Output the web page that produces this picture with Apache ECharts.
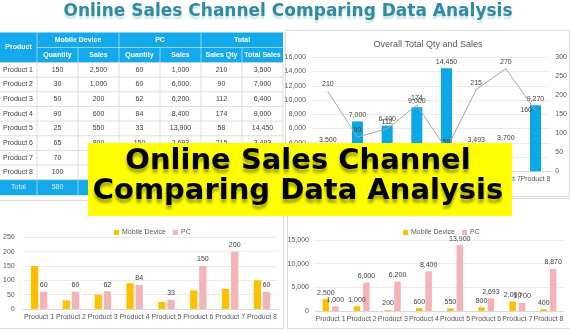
<!DOCTYPE html>
<html><head><meta charset="utf-8">
<script src="https://cdn.jsdelivr.net/npm/echarts@6/dist/echarts.min.js"></script>
<style>html,body{margin:0;padding:0;background:#fff}#c{width:570px;height:330px}</style>
</head><body><div id="c"></div>
<script>
const mainTitle = 'Online Sales Channel Comparing Data Analysis';
const bannerLines = ['Online Sales Channel', 'Comparing Data Analysis'];
const products = ['Product 1','Product 2','Product 3','Product 4','Product 5','Product 6','Product 7','Product 8'];
const mobileQty = [150, 30, 50, 90, 25, 65, 70, 100];
const mobileSales = [2500, 1000, 200, 600, 550, 800, 2000, 400];
const pcQty = [60, 60, 62, 84, 33, 150, 200, 60];
const pcSales = [1000, 6000, 6200, 8400, 13900, 2693, 1700, 8870];
const totalQty = [210, 90, 112, 174, 58, 215, 270, 160];
const totalSales = [3500, 7000, 6400, 9000, 14450, 3493, 3700, 9270];
const headerGroups = ['Mobile Device', 'PC', 'Total'];
const headerSub = ['Quantity', 'Sales', 'Quantity', 'Sales', 'Sales Qty', 'Total Sales'];
const chartTitles = ['Overall Total Qty and Sales', 'Total Qty Comparison', 'Total Sales Comparison'];

const fmt = v => Number(v).toLocaleString('en-US');
const sum = a => a.reduce((s, v) => s + v, 0);
const FONT = 'Liberation Sans';
const BLUE = '#14a9ec';
const els = [];

// Main title
els.push({type:'text', z:10, style:{text:mainTitle, x:288, y:12, align:'center', verticalAlign:'middle',
  font:'bold 17px "DejaVu Sans"', fill:'#3389a1',
  textShadowColor:'rgba(120,190,205,0.45)', textShadowBlur:2, textShadowOffsetY:3}});

// ---- Table ----
const colX = [0, 37, 78, 119, 160, 201, 242, 283];
const hTop = 32.5, hMid = 47.5, dTop = 62.5, rh = 14.65;
const totTop = dTop + 8 * rh, totBot = totTop + 15.5;
els.push({type:'rect', z:1, shape:{x:0, y:hTop, width:283, height:dTop - hTop}, style:{fill:BLUE}});
els.push({type:'rect', z:1, shape:{x:0, y:totTop, width:283, height:totBot - totTop}, style:{fill:BLUE}});
const wl = {stroke:'rgba(255,255,255,0.75)', lineWidth:0.7};
const gl = {stroke:'#cfcfcf', lineWidth:0.7};
[1, 3, 5].forEach(i => els.push({type:'line', z:2, shape:{x1:colX[i], y1:hTop, x2:colX[i], y2:dTop}, style:wl}));
[2, 4, 6].forEach(i => els.push({type:'line', z:2, shape:{x1:colX[i], y1:hMid, x2:colX[i], y2:dTop}, style:wl}));
els.push({type:'line', z:2, shape:{x1:colX[1], y1:hMid, x2:283, y2:hMid}, style:wl});
for (let i = 1; i < 7; i++) els.push({type:'line', z:2, shape:{x1:colX[i], y1:totTop, x2:colX[i], y2:totBot}, style:wl});
for (let r = 0; r <= 8; r++) els.push({type:'line', z:2, shape:{x1:0, y1:dTop + r * rh, x2:283, y2:dTop + r * rh}, style:gl});
for (let i = 1; i < 8; i++) els.push({type:'line', z:2, shape:{x1:colX[i], y1:dTop, x2:colX[i], y2:totTop}, style:gl});
const tstyle = (text, x, y, o) => Object.assign({text, x, y, align:'center', verticalAlign:'middle',
  fontFamily:FONT, fontSize:7, fill:'#404040'}, o || {});
els.push({type:'text', z:3, style:tstyle('Product', colX[0] + 18.5, (hTop + dTop) / 2, {fill:'#fff', fontWeight:'bold'})});
headerGroups.forEach((g, k) => els.push({type:'text', z:3,
  style:tstyle(g, (colX[1 + 2 * k] + colX[3 + 2 * k]) / 2, (hTop + hMid) / 2, {fill:'#fff', fontWeight:'bold'})}));
headerSub.forEach((s, k) => els.push({type:'text', z:3,
  style:tstyle(s, (colX[1 + k] + colX[2 + k]) / 2, (hMid + dTop) / 2, {fill:'#fff', fontWeight:'bold'})}));
const cols = [mobileQty, mobileSales, pcQty, pcSales, totalQty, totalSales];
products.forEach((p, r) => {
  const cy = dTop + r * rh + rh / 2;
  els.push({type:'text', z:3, style:tstyle(p, 3, cy, {align:'left'})});
  cols.forEach((c, k) => els.push({type:'text', z:3, style:tstyle(fmt(c[r]), (colX[1 + k] + colX[2 + k]) / 2, cy)}));
});
const tcy = (totTop + totBot) / 2;
els.push({type:'text', z:3, style:tstyle('Total', 18.5, tcy, {fill:'#d8effc'})});
cols.forEach((c, k) => els.push({type:'text', z:3, style:tstyle(fmt(sum(c)), (colX[1 + k] + colX[2 + k]) / 2, tcy, {fill:'#d8effc'})}));

// ---- Panels ----
const pb = {fill:'none', stroke:'#dadada', lineWidth:1};
els.push({type:'rect', z:0, shape:{x:285.5, y:30.5, width:284, height:166}, style:pb});
els.push({type:'rect', z:0, shape:{x:-1, y:200.5, width:284.5, height:128}, style:pb});
els.push({type:'rect', z:0, shape:{x:287.5, y:198.5, width:283, height:130}, style:pb});
els.push({type:'text', z:3, style:tstyle(chartTitles[0], 428, 45, {fontSize:9, fill:'#595959'})});
els.push({type:'text', z:3, style:tstyle(chartTitles[1], 141, 212, {fontSize:9, fill:'#595959'})});
els.push({type:'text', z:3, style:tstyle(chartTitles[2], 428, 212, {fontSize:9, fill:'#595959'})});

// ---- Banner ----
els.push({type:'rect', z:100, shape:{x:88, y:143, width:424, height:73}, style:{fill:'#ffff00'}});
const bstyle = (t, y) => ({text:t, x:298, y, align:'center', verticalAlign:'middle',
  font:'bold 29px "DejaVu Sans"', fill:'#000',
  textShadowColor:'rgba(0,0,0,0.35)', textShadowBlur:3, textShadowOffsetY:4});
els.push({type:'text', z:101, style:bstyle(bannerLines[0], 161.3)});
els.push({type:'text', z:101, style:bstyle(bannerLines[1], 191.3)});

const lab = {color:'#595959', fontSize:7, fontFamily:FONT};
const xAx = (gi) => ({gridIndex:gi, type:'category', data:products, axisTick:{show:false},
  axisLine:{lineStyle:{color:'#d9d9d9'}}, axisLabel:Object.assign({margin:4.5, interval:0}, lab)});
const yAx = (gi, max, interval, margin, extra) => Object.assign({gridIndex:gi, type:'value', min:0, max, interval,
  axisLine:{show:false}, axisTick:{show:false},
  axisLabel:Object.assign({margin, formatter:fmt}, lab),
  splitLine:{lineStyle:{color:'#e6e6e6', width:0.8}}}, extra || {});
const vlab = {show:true, position:'top', distance:3, color:'#404040', fontSize:7, fontFamily:FONT, formatter:p => fmt(p.value)};

const option = {
  animation:false,
  textStyle:{fontFamily:FONT},
  graphic:{elements:els},
  grid:[
    {left:313, right:18.5, top:57.3, bottom:158.7},
    {left:18.8, right:292.1, top:237.3, bottom:21},
    {left:315, right:6, top:240, bottom:19}
  ],
  legend:[
    {data:['Mobile Device','PC'], left:109, top:224, itemWidth:5, itemHeight:5, itemGap:7, icon:'rect',
     textStyle:Object.assign({padding:[0,0,0,-2]}, lab)},
    {data:['Mobile Device','PC'], left:398, top:224, itemWidth:5, itemHeight:5, itemGap:7, icon:'rect',
     textStyle:Object.assign({padding:[0,0,0,-2]}, lab)}
  ],
  xAxis:[xAx(0), xAx(1), xAx(2)],
  yAxis:[
    yAx(0, 16000, 2000, 7),
    yAx(0, 300, 50, 5, {position:'right', splitLine:{show:false}}),
    yAx(1, 250, 50, 8.5),
    yAx(2, 15000, 5000, 6)
  ],
  series:[
    {type:'bar', name:'Total Sales', xAxisIndex:0, yAxisIndex:0, data:totalSales, barWidth:11,
     itemStyle:{color:'#0aa8e6'}, label:vlab},
    {type:'line', name:'Sales Qty', xAxisIndex:0, yAxisIndex:1, z:5,
     data:totalQty.map((v, i) => i === 7 ? {value:v, label:{position:'left'}} : v),
     symbol:'circle', symbolSize:1, showSymbol:true,
     itemStyle:{color:'#a5a5a5'}, lineStyle:{color:'#a5a5a5', width:1}, label:vlab},
    {type:'bar', name:'Mobile Device', xAxisIndex:1, yAxisIndex:2, data:mobileQty, barWidth:7.3, barGap:'25%',
     itemStyle:{color:'#ffc000'}},
    {type:'bar', name:'PC', xAxisIndex:1, yAxisIndex:2, data:pcQty, barWidth:7.3, barGap:'25%',
     itemStyle:{color:'#f6b3b6'}, label:vlab},
    {type:'bar', name:'Mobile Device', xAxisIndex:2, yAxisIndex:3, data:mobileSales, barWidth:6.5, barGap:'45%',
     itemStyle:{color:'#ffc000'}, label:vlab},
    {type:'bar', name:'PC', xAxisIndex:2, yAxisIndex:3, data:pcSales, barWidth:6.5, barGap:'45%',
     itemStyle:{color:'#f6b3b6'}, label:vlab}
  ]
};
const chart = echarts.init(document.getElementById('c'), null, {renderer:'canvas'});
chart.setOption(option);
</script>
</body></html>
